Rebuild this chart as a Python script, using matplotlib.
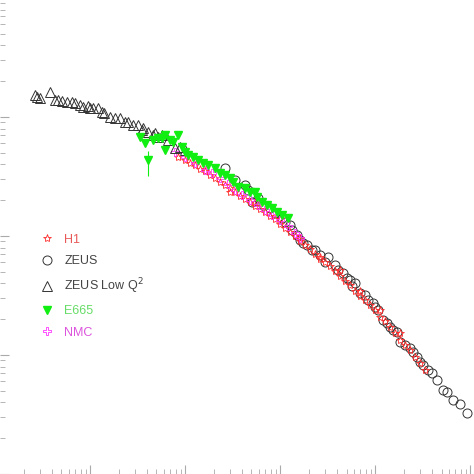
import numpy as np
import matplotlib
matplotlib.use('Agg')
import matplotlib.pyplot as plt
from matplotlib.lines import Line2D

# ZEUS Low Q^2 (open triangles)
zlow_x = [0.264, 0.277, 0.298, 0.379, 0.428, 0.460, 0.507, 0.573, 0.647, 0.695, 0.785, 0.844,
          0.953, 1.0, 1.075, 1.214, 1.337, 1.404, 1.624, 1.833, 2.069, 2.335, 2.511, 2.835,
          3.200, 3.613, 4.076, 3.527, 4.603, 4.83, 5.194, 5.731, 6.624, 7.85, 8.86, 10.0]
zlow_y = [15.3, 14.7, 14.4, 16.2, 13.9, 13.9, 13.6, 13.4, 13.4, 13.1, 12.6, 12.1,
          12.4, 11.9, 11.9, 11.9, 11.06, 10.85, 10.0, 9.8, 9.8, 9.08, 9.08, 8.57,
          8.57, 8.09, 7.48, 7.78, 7.06, 7.34, 6.79, 7.06, 6.41, 5.49, 5.60, 5.28]

# E665 (filled down triangles)
e665_x = [3.36, 3.79, 4.076, 4.603, 5.194, 5.731, 6.16, 6.16, 6.95, 7.47, 8.44, 9.30,
          10.0, 10.75, 12.15, 13.66, 15.5, 17.4, 20.7, 23.4, 26.4, 29.8, 32.0, 36.1,
          42.8, 48.3, 54.6, 57.3, 64.7, 73.0, 82.4, 93.0, 105, 122]
e665_y = [6.79, 6.05, 4.35, 6.41, 6.66, 6.66, 7.06, 5.28, 6.41, 6.17, 7.06, 5.60,
          5.08, 4.79, 4.61, 4.35, 4.10, 3.95, 3.73, 3.39, 3.26, 3.08, 2.85, 2.58,
          2.53, 2.35, 2.35, 2.13, 1.93, 1.82, 1.72, 1.59, 1.50, 1.42]
e665_err_lo = [0, 0.35, 1.15] + [0] * 31
e665_err_hi = [0, 0.10, 0.80] + [0] * 31

# ZEUS (open circles)
zeus_x = [26.4, 33.6, 42.8, 46.0, 50.7, 58.7, 66.2, 78.5, 88.6, 105, 113, 127, 133, 151,
          162, 174, 192, 217, 234, 264, 320, 298, 379, 408, 460, 507, 546, 573, 616, 695,
          785, 844, 953, 1000, 1075, 1214, 1337, 1438, 1546, 1705, 1833, 2069, 2335, 2511,
          2767, 2976, 3200, 3613, 3978, 4493, 5194, 5731, 6624, 7850, 9300]
zeus_y = [3.73, 2.96, 2.68, 2.44, 1.93, 2.09, 1.82, 1.72, 1.56, 1.42, 1.31, 1.24, 1.12, 1.02,
          0.925, 0.873, 0.840, 0.762, 0.762, 0.692, 0.666, 0.604, 0.570, 0.518, 0.489, 0.444,
          0.427, 0.381, 0.403, 0.333, 0.319, 0.290, 0.274, 0.253, 0.239, 0.197, 0.186, 0.172,
          0.162, 0.156, 0.129, 0.121, 0.114, 0.106, 0.0962, 0.0873, 0.0824, 0.0748, 0.0706,
          0.0617, 0.0508, 0.0489, 0.0419, 0.0387, 0.0326]

# H1 (open stars)
h1_x = [8.44, 10, 11.3, 12.7, 14.4, 16.2, 18.3, 20.7, 23.4, 26.4, 29.8, 33.6, 37.9, 42.8,
        48.3, 54.6, 61.6, 69.5, 78.5, 88.6, 100, 113, 127, 144, 162, 183, 207, 234, 264,
        298, 336, 379, 428, 483, 546, 616, 695, 785, 886, 1000, 1129, 1274, 1438, 1624,
        1833, 2069, 2335, 2636, 2976, 3360,
        29.8, 54.6, 100, 162, 264, 428, 695, 1129, 1833]
h1_y = [4.61, 4.35, 4.10, 3.95, 3.66, 3.52, 3.26, 3.08, 2.85, 2.68, 2.53, 2.35, 2.17, 2.05,
        1.93, 1.78, 1.68, 1.59, 1.47, 1.39, 1.26, 1.17, 1.08, 1.00, 0.907, 0.840, 0.777,
        0.706, 0.641, 0.605, 0.559, 0.508, 0.461, 0.419, 0.388, 0.345, 0.313, 0.290, 0.263,
        0.239, 0.209, 0.193, 0.172, 0.153, 0.134, 0.121, 0.110, 0.0962, 0.0856, 0.0748,
        2.35, 1.93, 1.39, 0.962, 0.666, 0.518, 0.345, 0.239, 0.153]

# NMC (open crosses)
nmc_x = [7.85, 10, 12.7, 16.2, 19.2, 23.4, 28.4, 33.6, 39.8, 48.3, 58.7, 69.5, 82.4, 100,
         121.5, 144, 162]
nmc_y = [5.08, 4.61, 4.10, 3.59, 3.39, 3.08, 2.73, 2.44, 2.21, 2.01, 1.82, 1.65, 1.50, 1.36,
         1.21, 1.06, 0.962]

labels = ['H1', 'ZEUS', 'ZEUS Low Q$^2$', 'E665', 'NMC']
text_colors = ['#e85a5a', '#444444', '#444444', '#66dd66', '#dd55dd']

fig = plt.figure(figsize=(4.74, 4.74), dpi=100)
ax = fig.add_axes([0, 0, 1, 1])

ax.plot(zeus_x, zeus_y, 'o', ms=6.5, mfc='none', mec='#333333', mew=0.7)
ax.plot(h1_x, h1_y, '*', ms=6, mfc='none', mec='#ff2a2a', mew=0.6)
ax.plot(nmc_x, nmc_y, 'P', ms=5.5, mfc='none', mec='#ff33ff', mew=0.6)
ax.plot(zlow_x, zlow_y, '^', ms=6.5, mfc='none', mec='#333333', mew=0.7)
ax.errorbar(e665_x, e665_y, yerr=[e665_err_lo, e665_err_hi], fmt='v', ms=5.5,
            color='#11ee11', mec='#11ee11', elinewidth=0.8, capsize=0)

ax.set_xscale('log')
ax.set_yscale('log')
ax.set_xlim(10 ** -0.947, 10 ** 4.04)
ax.set_ylim(10 ** -2.0, 10 ** 1.983)

for s in ax.spines.values():
    s.set_visible(False)
ax.tick_params(which='both', direction='in', colors='#aaaaaa', labelleft=False,
               labelbottom=False, right=False, top=False)
ax.tick_params(which='major', length=6.5, width=0.8)
ax.tick_params(which='minor', length=3.5, width=0.6)

handles = [
    Line2D([], [], ls='none', marker='*', ms=6, mfc='none', mec='#ff2a2a', mew=0.6),
    Line2D([], [], ls='none', marker='o', ms=6.5, mfc='none', mec='#333333', mew=0.7),
    Line2D([], [], ls='none', marker='^', ms=6.5, mfc='none', mec='#333333', mew=0.7),
    Line2D([], [], ls='none', marker='v', ms=6, color='#11ee11'),
    Line2D([], [], ls='none', marker='P', ms=6, mfc='none', mec='#ff33ff', mew=0.6),
]
leg = ax.legend(handles, labels, loc='upper left', bbox_to_anchor=(0.072, 0.52),
                frameon=False, handlelength=1.0, handletextpad=0.9,
                labelspacing=0.75, borderpad=0, prop={'family': 'Liberation Sans', 'size': 9})
for t, c in zip(leg.get_texts(), text_colors):
    t.set_color(c)

fig.savefig('out.png', dpi=100)
